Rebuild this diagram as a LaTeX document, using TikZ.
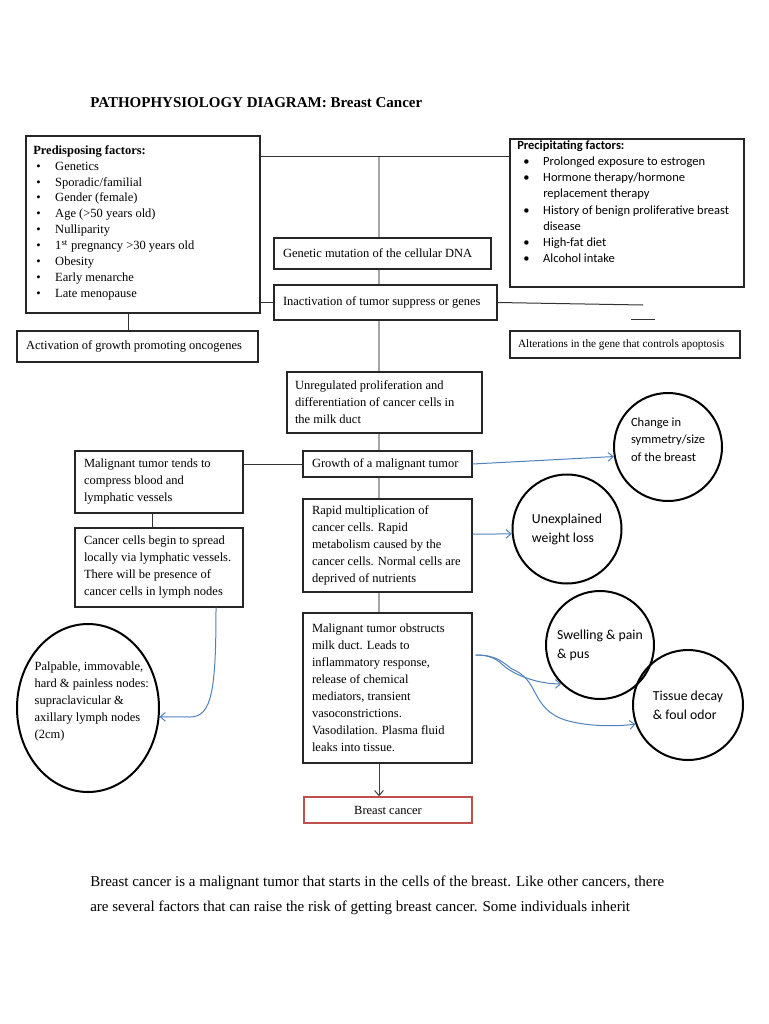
\documentclass[tikz,border=0pt]{standalone}
\usepackage{fontspec}
\setmainfont{Liberation Serif}
\newfontfamily\calibri{Carlito}
\usetikzlibrary{positioning, shapes.geometric, arrows.meta, calc}
\definecolor{linkblue}{HTML}{4F81BD}
\definecolor{boxred}{HTML}{C0504D}

\begin{document}
\begin{tikzpicture}[x=0.8pt, y=-0.8pt,
  % Node Styles
  box/.style={rectangle, draw=black!85, line width=0.9pt, inner sep=0pt, align=flush left, font=\fontsize{10}{13.6}\selectfont},
  redbox/.style={box, draw=boxred, line width=1.2pt, align=center},
  midbox/.style={box, minimum width=135.2pt, text width=120.8pt},
  sidebox/.style={box, minimum width=134.4pt, text width=120pt},
  bubble/.style={circle, draw, line width=1.6pt, inner sep=0pt, align=flush left, font=\calibri\fontsize{11}{15.2}\selectfont},
  listtext/.style={anchor=north west, inner sep=0pt},
  % Arrow Styles
  link/.style={draw=black!80, line width=0.8pt},
  trunk/.style={draw=gray!70, line width=1.3pt},
  bluearrow/.style={-{Straight Barb[length=4pt, width=7pt]}, draw=linkblue, line width=0.8pt},
  downarrow/.style={-{Straight Barb[length=4pt, width=7pt]}, draw=black!75, line width=0.8pt}
]
\useasboundingbox (0,0) rectangle (768,1024);

% Title
\node[anchor=base west, inner sep=0pt, font=\bfseries\fontsize{12}{14}\selectfont] (title) at (90,108) {PATHOPHYSIOLOGY DIAGRAM: Breast Cancer};

% Factors
\node[box, minimum width=187.2pt, minimum height=141.6pt] (predis) at (143,224.5) {};
\node[listtext, font=\fontsize{10}{12.7}\selectfont] (predisList) at (33,143) {%
\begin{tabular}{@{}p{17.6pt}@{}l@{}}
\multicolumn{2}{@{}l@{}}{\textbf{Predisposing factors:}}\\
\hspace*{2.4pt}\textbullet & Genetics\\
\hspace*{2.4pt}\textbullet & Sporadic/familial\\
\hspace*{2.4pt}\textbullet & Gender (female)\\
\hspace*{2.4pt}\textbullet & Age (>50 years old)\\
\hspace*{2.4pt}\textbullet & Nulliparity\\
\hspace*{2.4pt}\textbullet & 1\textsuperscript{st} pregnancy >30 years old\\
\hspace*{2.4pt}\textbullet & Obesity\\
\hspace*{2.4pt}\textbullet & Early menarche\\
\hspace*{2.4pt}\textbullet & Late menopause
\end{tabular}};
\node[box, minimum width=187.2pt, minimum height=118.4pt] (precip) at (627,213) {};
\node[listtext, font=\calibri\fontsize{10}{12.9}\selectfont] (precipList) at (517,138) {%
\begin{tabular}{@{}p{20.8pt}@{}l@{}}
\multicolumn{2}{@{}l@{}}{\textbf{Precipitating factors:}}\\
\hspace*{4.8pt}\textbullet & Prolonged exposure to estrogen\\
\hspace*{4.8pt}\textbullet & Hormone therapy/hormone\\
 & replacement therapy\\
\hspace*{4.8pt}\textbullet & History of benign proliferative breast\\
 & disease\\
\hspace*{4.8pt}\textbullet & High-fat diet\\
\hspace*{4.8pt}\textbullet & Alcohol intake
\end{tabular}};

% Central chain
\node[box, minimum width=173.6pt, minimum height=24.8pt, text width=159.2pt] (mutation) at (382.5,253.5) {Genetic mutation of the cellular DNA};
\node[box, minimum width=178.4pt, minimum height=28pt, text width=164pt] (inactiv) at (385.5,302.5) {Inactivation of tumor suppress or genes};
\node[box, minimum width=192.8pt, minimum height=24.8pt, text width=178.4pt] (activ) at (137.5,346.5) {Activation of growth promoting oncogenes};
\node[box, minimum width=184pt, minimum height=21.6pt, text width=171.2pt, font=\fontsize{9}{12}\selectfont] (alter) at (625,344.5) {Alterations in the gene that controls apoptosis};
\node[box, minimum width=156pt, minimum height=48.8pt, text width=143.2pt] (unreg) at (384.5,402.5) {Unregulated proliferation and\\differentiation of cancer cells in\\the milk duct};
\node[midbox, minimum height=20.8pt] (growth) at (387.5,464) {Growth of a malignant tumor};
\node[sidebox, minimum height=49.6pt] (compress) at (159,482) {Malignant tumor tends to\\compress blood and\\lymphatic vessels};
\node[sidebox, minimum height=63.2pt] (spread) at (159,567.5) {Cancer cells begin to spread\\locally via lymphatic vessels.\\There will be presence of\\cancer cells in lymph nodes};
\node[midbox, minimum height=74.4pt] (rapid) at (387.5,545.5) {Rapid multiplication of\\cancer cells. Rapid\\metabolism caused by the\\cancer cells. Normal cells are\\deprived of nutrients};
\node[midbox, minimum height=120pt] (obstruct) at (387.5,688) {Malignant tumor obstructs\\milk duct. Leads to\\inflammatory response,\\release of chemical\\mediators, transient\\vasoconstrictions.\\Vasodilation. Plasma fluid\\leaks into tissue.};
\node[redbox, minimum width=134.4pt, minimum height=20.8pt] (cancer) at (388,810) {Breast cancer};

% Manifestations
\node[bubble, minimum size=86.4pt,
  label={[align=flush left, font=\calibri\fontsize{10}{14}\selectfont, yshift=6pt]center:{Change in\\symmetry/size\\of the breast}}] (symm) at (668,447) {};
\node[bubble, minimum size=87.2pt] (weight) at (567,529) {Unexplained\\weight loss};
\node[bubble, minimum size=86.4pt] (swell) at (600,645) {Swelling \& pain\\\& pus};
\node[bubble, minimum size=88pt] (decay) at (688,705) {Tissue decay\\\& foul odor};
\node[ellipse, draw, line width=1.6pt, minimum width=113.6pt, minimum height=134.4pt, inner sep=0pt,
  label={[align=flush left, font=\fontsize{10}{13.6}\selectfont, xshift=3pt, yshift=5pt]center:{Palpable, immovable,\\hard \& painless nodes:\\supraclavicular \&\\axillary lymph nodes\\(2cm)}}] (palp) at (88,708) {};

% Text below
\node[anchor=base west, inner sep=0pt, align=left, font=\fontsize{12}{20}\selectfont] (intro) at (90,911) {Breast cancer is a malignant tumor that starts in the cells of the breast. Like other cancers, there\\are several factors that can raise the risk of getting breast cancer. Some individuals inherit};

% Connectors
\coordinate (fork) at (379,157);
\coordinate (loose) at (643,305);
\coordinate (stubL) at (631,319);
\coordinate (stubR) at (655,319);
\coordinate (oncoTop) at ($(predis.south)+(-15,0)$);
\coordinate (lymphOut) at ($(spread.south)+(57,0)$);
\coordinate (inflam) at ($(obstruct.east)+(3,-33)$);

\draw[link] (predis.east |- fork) -- (precip.west |- fork);
\draw[trunk] (fork) -- (fork |- mutation.north);
\draw[trunk] (fork |- mutation.south) -- (fork |- inactiv.north);
\draw[link] (inactiv.west) -- (inactiv.west -| predis.east);
\draw[link] (inactiv.east) -- (loose);
\draw[link] (stubL) -- (stubR);
\draw[link] (oncoTop) -- (oncoTop |- activ.north);
\draw[trunk] (fork |- inactiv.south) -- (fork |- unreg.north);
\draw[trunk] (fork |- unreg.south) -- (fork |- growth.north);
\draw[link] (growth.west) -- (growth.west -| compress.east);
\draw[link] ($(compress.south)+(-7,0)$) -- ($(spread.north)+(-7,0)$);
\draw[trunk] (fork |- growth.south) -- (fork |- rapid.north);
\draw[trunk] (fork |- rapid.south) -- (fork |- obstruct.north);
\draw[downarrow] (fork |- obstruct.south) -- (fork |- cancer.north);

\draw[bluearrow] (growth.east) -- (symm.190);
\draw[bluearrow] ([yshift=9pt]rapid.east) -- (weight.185);
\draw[bluearrow] (lymphOut) .. controls (216,690) and (212,717) .. (190,717) -- (palp.353);
\draw[bluearrow] (inflam) .. controls (497,655) and (500,664) .. (508,669) .. controls (520,677) and (540,684) .. (swell.225);
\draw[bluearrow] (inflam) .. controls (497,655) and (502,662) .. (512,669) .. controls (540,680) and (530,708) .. (565,720) .. controls (585,726) and (612,727) .. (decay.200);

\end{tikzpicture}
\end{document}
